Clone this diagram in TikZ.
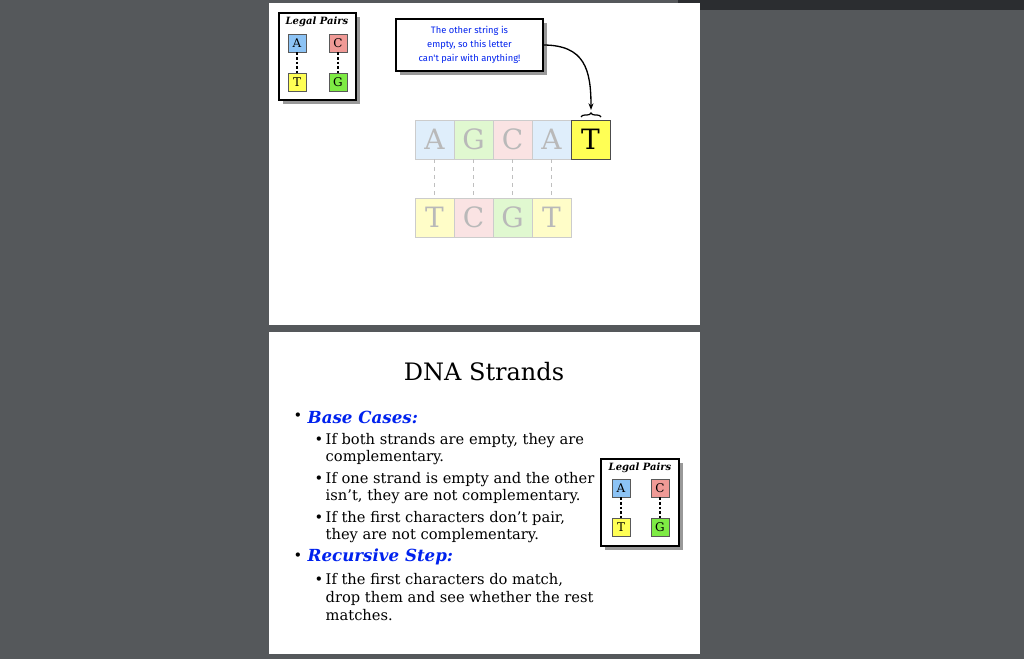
\documentclass[tikz,border=0pt]{standalone}
\usepackage{fontspec}
\setmainfont{DejaVu Serif}
\newfontfamily\handfont{Fira Sans}
\usetikzlibrary{decorations.pathreplacing,arrows.meta}
\definecolor{bg}{HTML}{55585B}
\definecolor{bar}{HTML}{2B2D30}
\definecolor{cA}{HTML}{8CC3F5}
\definecolor{cC}{HTML}{F09A96}
\definecolor{cT}{HTML}{FFFF55}
\definecolor{cG}{HTML}{7EEB44}
\definecolor{fA}{HTML}{DFEEFB}
\definecolor{fC}{HTML}{FAE3E3}
\definecolor{fT}{HTML}{FFFDC8}
\definecolor{fG}{HTML}{E0F8D0}
\definecolor{blueT}{HTML}{0022EE}
\tikzset{
 slide/.style={fill=white,draw=none},
 lpbox/.style={draw=black,line width=1.2pt,fill=white},
 shadow/.style={fill=gray!80,draw=none},
 base/.style={draw=gray!70!black,minimum size=13.5pt,inner sep=0pt,font=\fontsize{9}{9}\selectfont},
 faded/.style={draw=gray!40,minimum size=29pt,inner sep=0pt,text=gray!55,font=\fontsize{21}{21}\selectfont},
 bold/.style={draw=gray!60!black,minimum size=29pt,inner sep=0pt,text=black,font=\fontsize{21}{21}\selectfont},
 pairline/.style={dashed,line width=1.2pt,dash pattern=on 2pt off 1.5pt},
 fadeline/.style={dashed,gray!50,line width=0.6pt},
 body/.style={anchor=west,font=\fontsize{11}{13.2}\selectfont,align=left},
 head/.style={anchor=west,font=\fontsize{12.5}{14}\selectfont\bfseries\itshape,text=blueT},
}
\begin{document}
\begin{tikzpicture}[x=0.75pt,y=-0.75pt]
\fill[bg] (0,0) rectangle (1024,659);
\useasboundingbox (0,0) rectangle (1024,659);
\fill[bar] (678,0) rectangle (1024,10);
\fill[slide] (269,3) rectangle (700,325);
\fill[slide] (269,332) rectangle (700,654);
% legal pairs top
\fill[shadow] (283,17) rectangle (360,104);
\draw[lpbox] (279,13) rectangle (356,100);
\node[font=\fontsize{7.5}{8}\selectfont\bfseries\itshape] (lp1) at (317,22) {Legal Pairs};
\node[base,fill=cA] (a1) at (297,43) {A};
\node[base,fill=cC] (c1) at (338,43) {C};
\node[base,fill=cT] (t1) at (297,82) {T};
\node[base,fill=cG] (g1) at (338,82) {G};
\draw[pairline] (a1) -- (t1);
\draw[pairline] (c1) -- (g1);
% callout
\fill[shadow] (400,23) rectangle (547,75);
\draw[lpbox,line width=1.1pt] (396,19) rectangle (543,71);
\node[text=blueT,font=\handfont\fontsize{7}{10.5}\selectfont,align=center] (note) at (469.5,45) {The other string is\\empty, so this letter\\can't pair with anything!};
% strands
\node[faded,fill=fA] (s1) at (434.5,139.5) {A};
\node[faded,fill=fG] (s2) at (473.5,139.5) {G};
\node[faded,fill=fC] (s3) at (512.5,139.5) {C};
\node[faded,fill=fA] (s4) at (551.5,139.5) {A};
\node[bold,fill=cT] (s5) at (590.5,139.5) {T};
\node[faded,fill=fT] (b1) at (434.5,217.5) {T};
\node[faded,fill=fC] (b2) at (473.5,217.5) {C};
\node[faded,fill=fG] (b3) at (512.5,217.5) {G};
\node[faded,fill=fT] (b4) at (551.5,217.5) {T};
\foreach \i in {1,...,4}{\draw[fadeline] (s\i) -- (b\i);}
\coordinate (brL) at (581,117);
\coordinate (brR) at (601,117);
\draw[decorate,decoration={brace,amplitude=3pt},line width=0.9pt] (brL) -- (brR);
\coordinate (brT) at (591,110);
\coordinate (noteE) at (543,45);
\draw[-{Stealth[length=5pt]},line width=1pt] (noteE) .. controls (585,45) and (591,70) .. (brT);
% bottom slide
\node[font=\fontsize{18}{20}\selectfont] (title) at (484,372) {DNA Strands};
\node[body] (bu1) at (289,417) {•};
\node[head] (h1) at (303,417) {Base Cases:};
\node[body] (d1) at (310,441) {•};
\node[body] (t1a) at (321,449) {If both strands are empty, they are\\complementary.};
\node[body] (d2) at (310,480) {•};
\node[body] (t2a) at (321,488) {If one strand is empty and the other\\isn’t, they are not complementary.};
\node[body] (d3) at (310,519) {•};
\node[body] (t3a) at (321,527) {If the first characters don’t pair,\\they are not complementary.};
\node[body] (bu2) at (289,557) {•};
\node[head] (h2) at (303,557) {Recursive Step:};
\node[body] (d4) at (310,581) {•};
\node[body] (t4a) at (321,597) {If the first characters do match,\\drop them and see whether the rest\\matches.};
% legal pairs bottom
\fill[shadow] (605,463) rectangle (683,550);
\draw[lpbox] (601,459) rectangle (679,546);
\node[font=\fontsize{7.5}{8}\selectfont\bfseries\itshape] (lp2) at (640,468) {Legal Pairs};
\node[base,fill=cA] (a2) at (621,488) {A};
\node[base,fill=cC] (c2) at (660,488) {C};
\node[base,fill=cT] (t2) at (621,527) {T};
\node[base,fill=cG] (g2) at (660,527) {G};
\draw[pairline] (a2) -- (t2);
\draw[pairline] (c2) -- (g2);
\end{tikzpicture}
\end{document}
